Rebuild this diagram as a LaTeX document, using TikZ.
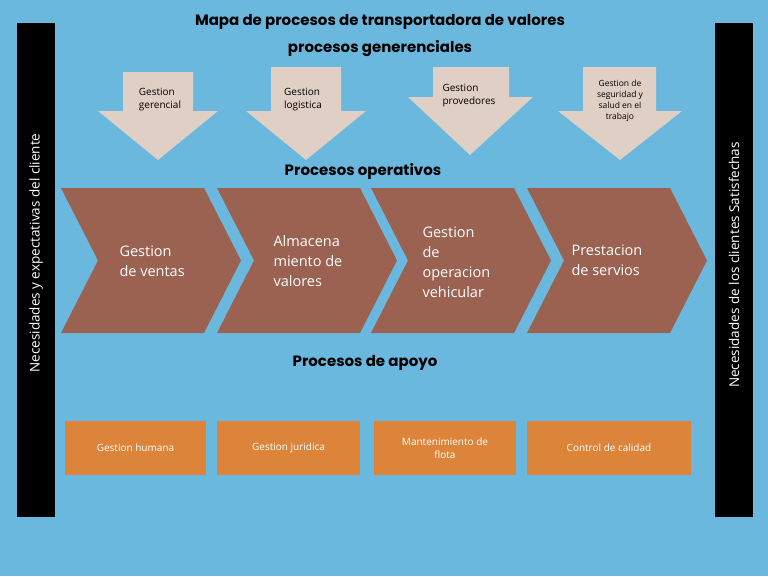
\documentclass[tikz,border=0pt]{standalone}
\usepackage{fontspec}
\setmainfont{Open Sans}
\newfontfamily\titlefont{Poppins}
\definecolor{bg}{HTML}{6BB8DE}
\definecolor{arr}{HTML}{DFCFC5}
\definecolor{chev}{HTML}{9C6251}
\definecolor{org}{HTML}{DC843A}
\begin{document}
\begin{tikzpicture}[x=1pt,y=-1pt,
  ttl/.style={font=\titlefont\bfseries\fontsize{15}{17}\selectfont,align=center},
  small/.style={font=\fontsize{10}{13}\selectfont,align=left},
  chevtext/.style={font=\fontsize{14.5}{20}\selectfont,text=white,align=left,anchor=west},
  obox/.style={fill=org,draw=none,font=\fontsize{10}{13}\selectfont,text=white,align=center},
  side/.style={fill=black,draw=none}]
\fill[bg] (0,0) rectangle (768,576);
\useasboundingbox (0,0) rectangle (768,576);
% side bars
\fill[black] (17,23) rectangle (55,517);
\fill[black] (715,23) rectangle (753,517);
\node[rotate=90,text=white,font=\fontsize{13.5}{16}\selectfont] (ls) at (36,253) {Necesidades y expectativas del cliente};
\node[rotate=90,text=white,font=\fontsize{13.5}{16}\selectfont] (rs) at (734,265) {Necesidades de los clientes Satisfechas};
% titles
\node[ttl] (t1) at (380,22) {Mapa de procesos de transportadora de valores};
\node[ttl] (t2) at (380,49) {procesos generenciales};
\node[ttl] (t3) at (363,171) {Procesos operativos};
\node[ttl] (t4) at (365,363) {Procesos de apoyo};
% down arrows
\fill[arr] (123,72)--(193,72)--(193,111)--(218,111)--(158,160)--(98,111)--(123,111)--cycle;
\fill[arr] (271,67)--(341,67)--(341,111)--(366,111)--(306,160)--(246,111)--(271,111)--cycle;
\fill[arr] (433,67)--(509,67)--(509,97)--(533,97)--(470,155)--(408,97)--(433,97)--cycle;
\fill[arr] (583,67)--(656,67)--(656,111)--(682,111)--(620,160)--(558,111)--(583,111)--cycle;
\node[small] (a1) at (160,100) {Gestion\\gerencial};
\node[small] (a2) at (303,100) {Gestion\\logistica};
\node[small] (a3) at (469,96) {Gestion\\provedores};
\node[align=center,font=\fontsize{8.5}{11}\selectfont] (a4) at (620,101) {Gestion de\\seguridad y\\salud en el\\trabajo};
% chevrons
\foreach \x in {61,217,371,527}{
  \fill[chev] (\x,188)--(\x+143,188)--(\x+180,260.5)--(\x+143,333)--(\x,333)--(\x+37,260.5)--cycle;}
\node[chevtext] (c1) at (116,261) {Gestion\\de ventas};
\node[chevtext] (c2) at (270,261) {Almacena\\miento de\\valores};
\node[chevtext] (c3) at (419,262) {Gestion\\de\\operacion\\vehicular};
\node[chevtext] (c4) at (568,260) {Prestacion\\de servios};
% boxes
\node[obox,minimum width=141pt,minimum height=54pt] (b1) at (135.5,448) {Gestion humana};
\node[obox,minimum width=143pt,minimum height=54pt] (b2) at (288.5,448) {Gestion juridica};
\node[obox,minimum width=142pt,minimum height=54pt] (b3) at (445,448) {Mantenimiento de\\flota};
\node[obox,minimum width=164pt,minimum height=54pt] (b4) at (609,448) {Control de calidad};
\end{tikzpicture}
\end{document}
